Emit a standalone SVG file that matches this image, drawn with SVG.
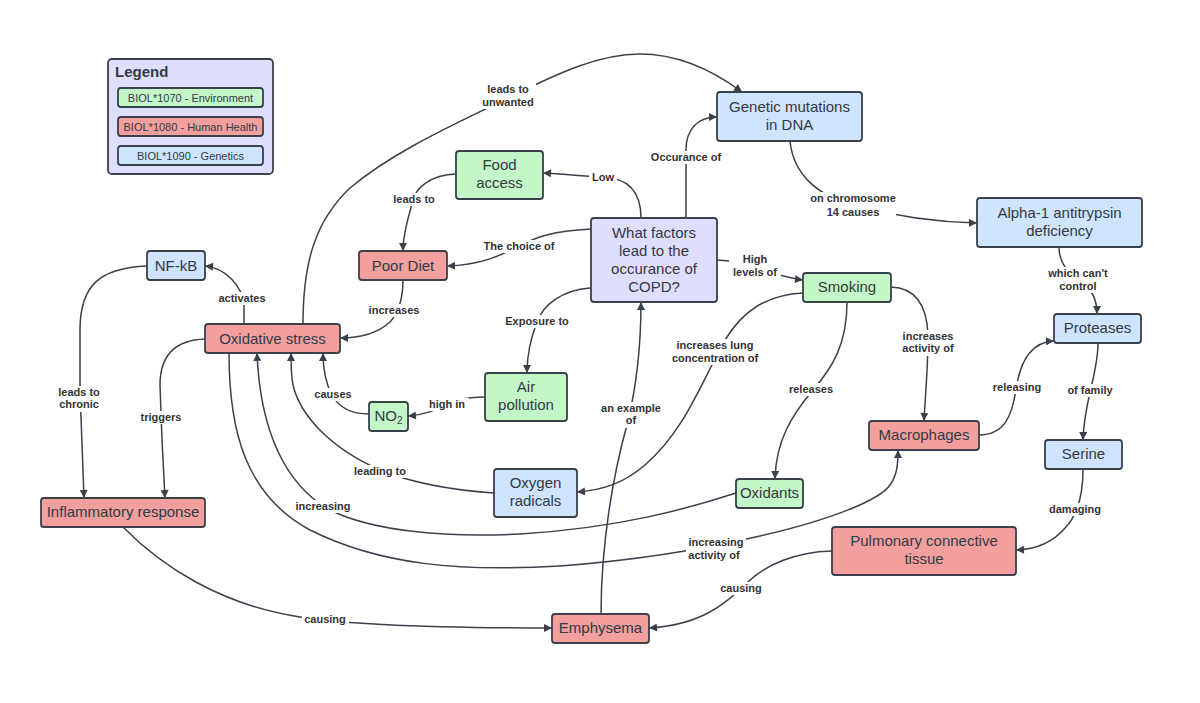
<svg xmlns="http://www.w3.org/2000/svg" width="1200" height="703" viewBox="0 0 1200 703">
<defs>
<marker id="ah" viewBox="0 0 10 10" refX="10" refY="5" markerWidth="9" markerHeight="8" markerUnits="userSpaceOnUse" orient="auto"><path d="M0,0 L10,5 L0,10 z" fill="#3a414a"/></marker>
<style>
.n rect{stroke:#3a414a;stroke-width:1.8}
.g rect{fill:#c3f7c8}.r rect{fill:#f29f9e}.b rect{fill:#cfe4ff}.p rect{fill:#dedeff}
.n text{font-family:"Liberation Sans",Arial,sans-serif;font-size:15px;fill:#333a44;text-anchor:middle}
.c path{fill:none;stroke:#3a414a;stroke-width:1.5;marker-end:url(#ah)}
.l rect{fill:#fff}
.l text{font-family:"Liberation Sans",Arial,sans-serif;font-size:11px;font-weight:bold;fill:#333;text-anchor:middle}
.n text.lgt{font-size:11px}
.n text.ttl{font-size:15px;font-weight:bold;text-anchor:start}
</style>
</defs>
<rect width="1200" height="703" fill="#fff"/>

<g id="legend">
<g class="n p"><rect x="108" y="59" width="165" height="115" rx="4"/><text class="ttl" x="115" y="77">Legend</text></g>
<g class="n g"><rect x="118" y="88" width="145" height="19" rx="3"/><text class="lgt" x="190.5" y="101.5">BIOL*1070 - Environment</text></g>
<g class="n r"><rect x="118" y="117" width="145" height="19" rx="3"/><text class="lgt" x="190.5" y="130.5">BIOL*1080 - Human Health</text></g>
<g class="n b"><rect x="118" y="146" width="145" height="19" rx="3"/><text class="lgt" x="190.5" y="159.5">BIOL*1090 - Genetics</text></g>
</g>

<g id="connectors" class="c">
<path d="M641,218 C641,192 628,178 603,177 C580,176 565,174 543,173"/>
<path d="M591,229 C550,231 535,238 519,246 C500,256 480,265 447,266"/>
<path d="M456,174 C430,175 416,188 413,200 C407,222 403,236 403,251"/>
<path d="M686,218 L686,150 C686,130 697,117 717,117"/>
<path d="M717,260 C750,261 770,276 803,280"/>
<path d="M590,288 C562,290 543,305 537,322 C530,340 527,355 527,373"/>
<path d="M790,141 C793,172 815,195 853,205 C890,215 930,222 977,223"/>
<path d="M1059,247 C1059,265 1072,277 1082,283 C1093,290 1097,300 1097,314"/>
<path d="M1098,343 C1098,375 1084,400 1083,440"/>
<path d="M1083,469 C1083,495 1078,515 1065,528 C1055,540 1040,549 1016,550"/>
<path d="M979,435 C1005,435 1012,415 1016,390 C1020,360 1032,342 1054,341"/>
<path d="M891,287 C916,288 927,305 928,335 C928,370 925,400 924,421"/>
<path d="M847,302 C847,345 832,368 813,390 C792,415 776,440 775,479"/>
<path d="M803,293 C765,295 742,312 725,340 C700,385 685,430 645,465 C625,482 605,490 577,492"/>
<path d="M494,493 C450,490 410,482 380,470 C330,448 300,415 293,385 C291,375 291,365 291,353"/>
<path d="M369,414 C350,414 338,406 332,395 C326,384 323,372 323,353"/>
<path d="M485,397 C468,397 455,400 447,404 C435,410 425,415 408,416"/>
<path d="M403,280 C403,300 398,313 390,322 C378,333 360,338 340,338"/>
<path d="M244,324 L244,305 C242,285 225,268 205,266"/>
<path d="M303,324 C303,265 314,222 350,188 C395,150 460,122 508,98 C560,72 600,54 640,54 C680,54 715,72 742,92"/>
<path d="M205,339 C178,340 160,352 160,385 L162,440 L165,498"/>
<path d="M147,266 C100,268 80,285 80,330 L80,390 L84,498"/>
<path d="M123,527 C160,565 220,605 300,617 C350,625 450,628 552,628"/>
<path d="M601,614 C601,545 613,475 627,425 C637,385 641,345 641,302"/>
<path d="M736,493 C690,508 620,528 520,534 C440,538 370,530 330,510 C285,485 260,430 257,353"/>
<path d="M229,353 C229,430 245,495 310,530 C380,565 460,572 560,566 C640,560 700,550 760,536 C830,520 880,500 890,485 C897,475 898,465 898,450"/>
<path d="M832,551 C795,552 765,565 748,582 C725,605 700,625 649,628"/>
</g>

<g id="labels" class="l">
<rect x="589" y="171" width="28" height="13"/><text x="603" y="181">Low</text>
<rect x="480" y="240" width="79" height="13"/><text x="519" y="250">The choice of</text>
<rect x="390" y="193" width="49" height="13"/><text x="414" y="203">leads to</text>
<rect x="648" y="151" width="76" height="13"/><text x="686" y="161">Occurance of</text>
<rect x="729" y="253" width="52" height="26"/><text x="755" y="263">High</text><text x="755" y="276">levels of</text>
<rect x="503" y="315" width="68" height="13"/><text x="537" y="325">Exposure to</text>
<rect x="810" y="192" width="86" height="26"/><text x="853" y="202">on chromosome</text><text x="853" y="216">14 causes</text>
<rect x="1045" y="267" width="66" height="26"/><text x="1078" y="277">which can't</text><text x="1078" y="290">control</text>
<rect x="1064" y="384" width="54" height="13"/><text x="1090" y="394">of family</text>
<rect x="1048" y="503" width="56" height="13"/><text x="1075" y="513">damaging</text>
<rect x="990" y="381" width="56" height="13"/><text x="1017" y="391">releasing</text>
<rect x="898" y="330" width="61" height="26"/><text x="928" y="340">increases</text><text x="928" y="352">activity of</text>
<rect x="786" y="383" width="52" height="13"/><text x="811" y="393">releases</text>
<rect x="669" y="339" width="94" height="26"/><text x="715" y="349">increases lung</text><text x="715" y="362">concentration of</text>
<rect x="350" y="465" width="61" height="13"/><text x="380" y="475">leading to</text>
<rect x="313" y="388" width="41" height="13"/><text x="333" y="398">causes</text>
<rect x="426" y="398" width="43" height="13"/><text x="447" y="408">high in</text>
<rect x="367" y="304" width="56" height="13"/><text x="394" y="314">increases</text>
<rect x="215" y="292" width="55" height="13"/><text x="242" y="302">activates</text>
<rect x="480" y="83" width="56" height="26"/><text x="508" y="93">leads to</text><text x="508" y="106">unwanted</text>
<rect x="137" y="411" width="48" height="13"/><text x="161" y="421">triggers</text>
<rect x="55" y="386" width="49" height="26"/><text x="79" y="396">leads to</text><text x="79" y="408">chronic</text>
<rect x="302" y="613" width="47" height="13"/><text x="325" y="623">causing</text>
<rect x="598" y="402" width="66" height="26"/><text x="631" y="412">an example</text><text x="631" y="424">of</text>
<rect x="294" y="500" width="60" height="13"/><text x="323" y="510">increasing</text>
<rect x="686" y="536" width="60" height="26"/><text x="716" y="546">increasing</text><text x="714" y="559">activity of</text>
<rect x="718" y="582" width="47" height="13"/><text x="741" y="592">causing</text>
</g>

<g id="n-what" class="n p"><rect x="591" y="218" width="126" height="84" rx="3"/><text x="654" y="238">What factors</text><text x="654" y="256">lead to the</text><text x="654" y="274">occurance of</text><text x="654" y="292">COPD?</text></g>
<g id="n-genetic" class="n b"><rect x="717" y="92" width="145" height="49" rx="3"/><text x="789.5" y="112">Genetic mutations</text><text x="789.5" y="130">in DNA</text></g>
<g id="n-alpha" class="n b"><rect x="977" y="198" width="165" height="49" rx="3"/><text x="1059.5" y="218">Alpha-1 antitrypsin</text><text x="1059.5" y="236">deficiency</text></g>
<g id="n-food" class="n g"><rect x="456" y="151" width="87" height="48" rx="3"/><text x="499.5" y="170">Food</text><text x="499.5" y="188">access</text></g>
<g id="n-poordiet" class="n r"><rect x="359" y="251" width="88" height="29" rx="3"/><text x="403" y="271">Poor Diet</text></g>
<g id="n-nfkb" class="n b"><rect x="147" y="251" width="58" height="29" rx="3"/><text x="176" y="271">NF-kB</text></g>
<g id="n-oxstress" class="n r"><rect x="205" y="324" width="135" height="29" rx="3"/><text x="272.5" y="344">Oxidative stress</text></g>
<g id="n-no2" class="n g"><rect x="369" y="402" width="39" height="29" rx="3"/><text x="388.5" y="421">NO<tspan font-size="10" dy="3">2</tspan></text></g>
<g id="n-air" class="n g"><rect x="485" y="373" width="82" height="48" rx="3"/><text x="526" y="392">Air</text><text x="526" y="410">pollution</text></g>
<g id="n-oxyrad" class="n b"><rect x="494" y="469" width="83" height="48" rx="3"/><text x="535.5" y="488">Oxygen</text><text x="535.5" y="506">radicals</text></g>
<g id="n-smoking" class="n g"><rect x="803" y="273" width="88" height="29" rx="3"/><text x="847" y="292">Smoking</text></g>
<g id="n-oxidants" class="n g"><rect x="736" y="479" width="67" height="29" rx="3"/><text x="769.5" y="498">Oxidants</text></g>
<g id="n-macro" class="n r"><rect x="869" y="421" width="110" height="29" rx="3"/><text x="924" y="440">Macrophages</text></g>
<g id="n-proteases" class="n b"><rect x="1054" y="314" width="87" height="29" rx="3"/><text x="1097.5" y="333">Proteases</text></g>
<g id="n-serine" class="n b"><rect x="1045" y="440" width="77" height="29" rx="3"/><text x="1083.5" y="459">Serine</text></g>
<g id="n-pulmonary" class="n r"><rect x="832" y="527" width="184" height="48" rx="3"/><text x="924" y="546">Pulmonary connective</text><text x="924" y="564">tissue</text></g>
<g id="n-emphysema" class="n r"><rect x="552" y="614" width="97" height="29" rx="3"/><text x="600.5" y="633">Emphysema</text></g>
<g id="n-inflam" class="n r"><rect x="41" y="498" width="164" height="29" rx="3"/><text x="123" y="517">Inflammatory response</text></g>
</svg>
